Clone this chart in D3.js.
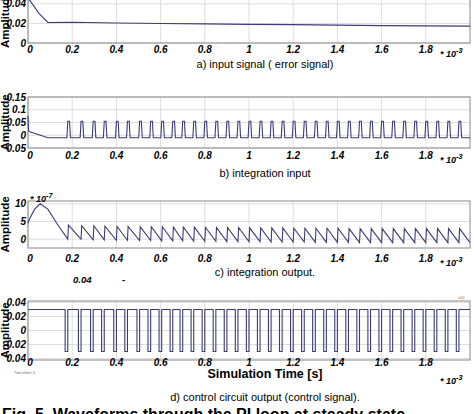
<!DOCTYPE html><html><head><script src="https://cdn.jsdelivr.net/npm/d3@7"></script>
<style>body{margin:0;background:#fff}text{font-family:"Liberation Sans",Arial,sans-serif}</style></head><body>
<svg id="c" width="474" height="414"></svg>
<script>
const xTicks=[0,0.2,0.4,0.6,0.8,1,1.2,1.4,1.6,1.8];
const pulses=[0.18,0.24,0.295,0.345,0.40,0.45,0.505,0.555,0.605,0.655,0.70,0.75,0.80,0.85,0.90,0.95,1.0,1.05,1.10,1.15,1.20,1.25,1.30,1.35,1.40,1.45,1.50,1.55,1.60,1.65,1.70,1.75,1.80,1.85,1.90,1.95];
const aT=[0,0.01,0.05,0.09,0.2,0.4,0.6,0.8,1.0,1.2,1.4,1.6,1.8,2.0];
const aV=[0.045,0.043,0.03,0.021,0.0212,0.0205,0.02,0.0195,0.019,0.0188,0.0183,0.0178,0.0175,0.0172];
const bT=[0,0.003,0.01,0.05,0.09];
const bV=[0.075,0.017,0.013,0.002,-0.01];
const cT=[0,0.005,0.03,0.055,0.09,0.13,0.18];
const cV=[4.5,5.5,8.5,10,8.5,4.5,0];
const cPeak=[4,3.8,3.8,3.7,3.6,3.6,3.5,3.5,3.5,3.4,3.4,3.4,3.3,3.3,3.3,3.3,3.2,3.2,3.2,3.2,3.1,3.1,3.1,3.1,3.1,3.0,3.0,3.0,3.0,3.0,3.0,3.0,3.0,3.0,3.0,3.0];
const cTrough=[0,0,-0.2,-0.2,-0.3,-0.3,-0.4,-0.4,-0.5,-0.5,-0.5,-0.6,-0.6,-0.6,-0.7,-0.7,-0.7,-0.7,-0.8,-0.8,-0.8,-0.8,-0.9,-0.9,-0.9,-0.9,-1,-1,-1,-1,-1,-1,-1,-1,-1,-1];
const aY=[0,0.02,0.04], bY=[-0.05,0,0.05,0.1,0.15], cY=[0,5,10], dY=[-0.04,-0.02,0,0.02,0.04];
const bYl=["0.05","0","0.05","0.1","0.15"], dYl=["0.04","0.02","0","0.02","0.04"];
const svg=d3.select("#c"), L=28, R=470, col="#3c3c78";
const x=d3.scaleLinear().domain([0,2]).range([L,R]);
function panel(top,bot,dom,yt,yl,pts,xlabY){
  const y=d3.scaleLinear().domain(dom).range([bot,top]);
  const g=svg.append("g");
  g.append("text").attr("transform",`translate(9,${(top+bot)/2}) rotate(-90)`).attr("text-anchor","middle").attr("font-size",11.5).attr("font-weight","bold").text("Amplitude");
  g.selectAll(".gx").data(xTicks).join("line").attr("x1",d=>x(d)).attr("x2",d=>x(d)).attr("y1",top).attr("y2",bot).attr("stroke","#ddd");
  g.selectAll(".gy").data(yt).join("line").attr("x1",L).attr("x2",R).attr("y1",d=>y(d)).attr("y2",d=>y(d)).attr("stroke","#ddd");
  g.append("rect").attr("x",L).attr("y",top).attr("width",R-L).attr("height",bot-top).attr("fill","none").attr("stroke","#888");
  g.selectAll(".yl").data(yt).join("text").attr("x",L-2).attr("y",d=>y(d)+3.5).attr("text-anchor","end").attr("font-size",10).attr("font-weight","bold").attr("font-style","italic").text((d,i)=>yl?yl[i]:d);
  g.selectAll(".xl").data(xTicks).join("text").attr("x",d=>x(d)+(d==0?2:0)).attr("y",xlabY).attr("text-anchor","middle").attr("font-size",10).attr("font-weight","bold").attr("font-style","italic").text(d=>d);
  g.append("path").datum(pts).attr("fill","none").attr("stroke",col).attr("stroke-width",1.1).attr("d",d3.line().x(d=>x(d[0])).y(d=>y(d[1])));
}
function mult(xp,yp,e,fs){const t=svg.append("text").attr("x",xp).attr("y",yp).attr("font-size",fs||9).attr("font-style","italic").attr("font-weight","bold");t.append("tspan").text("* 10");t.append("tspan").attr("dy",-4).attr("font-size",(fs||9)*0.8).text(e);}
function cap(t,y){svg.append("text").attr("x",265).attr("y",y).attr("text-anchor","middle").attr("font-size",11).text(t);}
// a
panel(-3,43,[0,0.047],aY,null,aT.map((t,i)=>[t,aV[i]]),53);
mult(440,57,"-3");cap("a) input signal ( error signal)",68);
// b
const bp=bT.map((t,i)=>[t,bV[i]]);
pulses.forEach(p=>{bp.push([p-0.004,-0.01],[p,0.055],[p+0.008,0.055],[p+0.012,-0.01]);});bp.push([2,-0.01]);
panel(97,148,[-0.05,0.15],bY,bYl,bp,159);
mult(440,163,"-3");cap("b) integration input",177);
// c
const cp=cT.map((t,i)=>[t,cV[i]]);
pulses.forEach((p,i)=>{const nx=pulses[i+1]||2;cp.push([p,cTrough[i]],[p+0.003,cPeak[i]],[nx,i+1<pulses.length?cTrough[i+1]:cTrough[i]]);});
panel(201,248,[-2.5,10.8],cY,null,cp,262);
mult(30,202,"-7");mult(440,266,"-3");cap("c) integration output.",276);
svg.append("text").attr("x",73).attr("y",283).attr("font-size",9.5).attr("font-weight","bold").attr("font-style","italic").text("0.04");
svg.append("text").attr("x",122).attr("y",283).attr("font-size",9.5).attr("font-weight","bold").text("-");
// d
const dp=[[0,0.03]];
pulses.forEach(p=>{dp.push([p-0.012,0.03],[p-0.012,-0.03],[p,-0.03],[p,0.03]);});dp.push([2,0.03]);
panel(301,360,[-0.042,0.042],dY,dYl,dp,366);
svg.append("text").attr("x",265).attr("y",378).attr("text-anchor","middle").attr("font-size",12.5).attr("font-weight","bold").text("Simulation Time [s]");
svg.append("text").attr("x",14).attr("y",374).attr("font-size",3.5).attr("fill","#666").text("Time offset: 0");
svg.append("text").attr("x",458).attr("y",299).attr("font-size",4).attr("fill","#666").text("x10");
mult(440,384,"-3");cap("d) control circuit output (control signal).",401);
svg.append("text").attr("x",2).attr("y",420).attr("font-family","Liberation Serif").attr("font-size",16).attr("font-weight","bold").text("Fig. 5. Waveforms through the PI loop at steady state.");
</script></body></html>
